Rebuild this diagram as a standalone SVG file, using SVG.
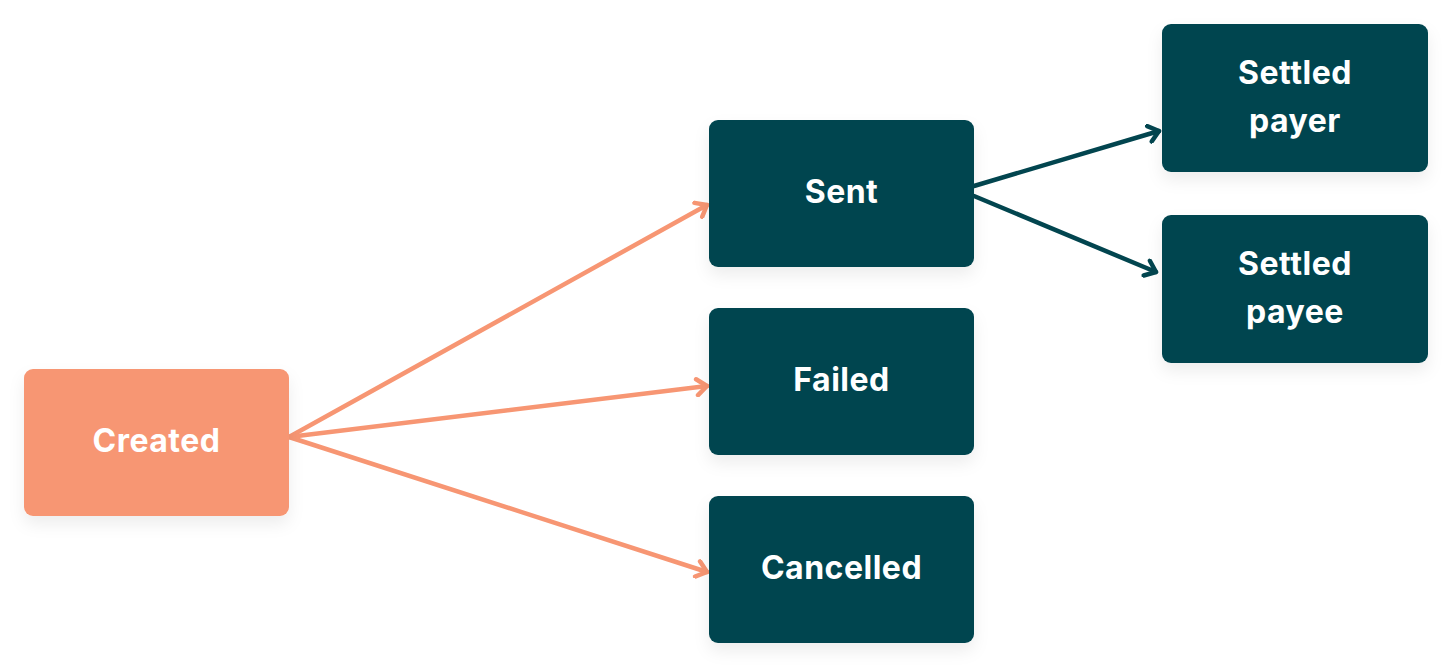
<svg xmlns="http://www.w3.org/2000/svg" width="1453" height="667" viewBox="0 0 1453 667">
<defs>
<filter id="sh" x="-20%" y="-20%" width="140%" height="150%">
<feDropShadow dx="0" dy="8" stdDeviation="8" flood-color="#000" flood-opacity="0.07"/>
</filter>
<marker id="ao" viewBox="0 0 20 20" refX="17" refY="10" markerWidth="20" markerHeight="20" markerUnits="userSpaceOnUse" orient="auto">
<path d="M7 2 L17 10 L7 18" fill="none" stroke="#F79673" stroke-width="4.5" stroke-linecap="round" stroke-linejoin="round"/>
</marker>
<marker id="at" viewBox="0 0 20 20" refX="17" refY="10" markerWidth="20" markerHeight="20" markerUnits="userSpaceOnUse" orient="auto">
<path d="M7 2 L17 10 L7 18" fill="none" stroke="#02454F" stroke-width="4.5" stroke-linecap="round" stroke-linejoin="round"/>
</marker>
</defs>
<style>
.o{fill:#F79673}
.t{fill:#02454F}
.box{filter:url(#sh)}
text{font-family:Inter,"Liberation Sans",sans-serif;font-weight:700;font-size:32px;letter-spacing:0.5px;fill:#fff;text-anchor:middle}
.co{stroke:#F79673;stroke-width:4.5;fill:none;stroke-linecap:round}
.ct{stroke:#02454F;stroke-width:4.5;fill:none;stroke-linecap:round}
</style>
<rect width="1453" height="667" fill="#fff"/>
<g id="connectors">
<line class="co" x1="289" y1="437" x2="707" y2="205" marker-end="url(#ao)"/>
<line class="co" x1="289" y1="437" x2="707" y2="386" marker-end="url(#ao)"/>
<line class="co" x1="289" y1="437" x2="707" y2="572" marker-end="url(#ao)"/>
<line class="ct" x1="974" y1="186" x2="1159" y2="131" marker-end="url(#at)"/>
<line class="ct" x1="974" y1="196" x2="1156" y2="272" marker-end="url(#at)"/>
</g>
<g id="created"><rect class="o box" x="24" y="369" width="265" height="147" rx="9"/><text x="156.5" y="452">Created</text></g>
<g id="sent"><rect class="t box" x="709" y="120" width="265" height="147" rx="9"/><text x="841.5" y="203">Sent</text></g>
<g id="failed"><rect class="t box" x="709" y="308" width="265" height="147" rx="9"/><text x="841.5" y="391">Failed</text></g>
<g id="cancelled"><rect class="t box" x="709" y="496" width="265" height="147" rx="9"/><text x="841.5" y="579">Cancelled</text></g>
<g id="settled-payer"><rect class="t box" x="1162" y="24" width="266" height="148" rx="9"/><text x="1295" y="84">Settled</text><text x="1295" y="132">payer</text></g>
<g id="settled-payee"><rect class="t box" x="1162" y="215" width="266" height="148" rx="9"/><text x="1295" y="275">Settled</text><text x="1295" y="323">payee</text></g>
</svg>
